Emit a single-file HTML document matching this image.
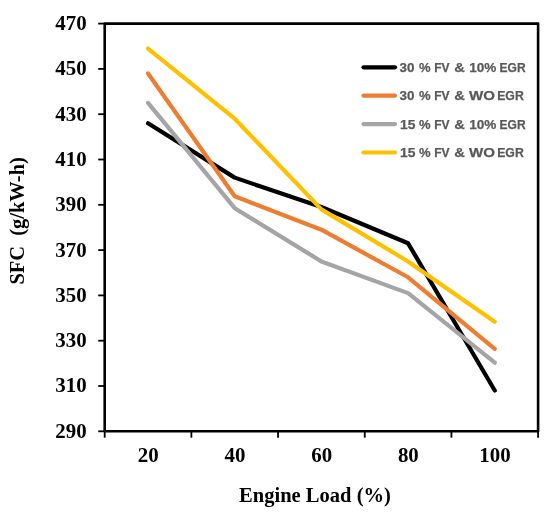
<!DOCTYPE html>
<html><head><meta charset="utf-8"><title>SFC vs Engine Load</title>
<style>
html,body{margin:0;padding:0;background:#fff;}
body{width:550px;height:514px;overflow:hidden;}
svg{display:block;}
.ax{font-family:"Liberation Serif",serif;font-weight:bold;font-size:20.4px;fill:#000;}
.lg{font-family:"Liberation Sans",sans-serif;font-weight:bold;font-size:13.4px;fill:#595959;stroke:#595959;stroke-width:0.25px;}
</style></head><body>
<svg width="550" height="514" viewBox="0 0 550 514">
<rect width="550" height="514" fill="#fff"/>
<rect x="104.7" y="23.6" width="433.40" height="407.70" fill="none" stroke="#000" stroke-width="2.6" stroke-linejoin="round"/>
<line x1="98.20" y1="23.60" x2="104.7" y2="23.60" stroke="#000" stroke-width="1.8"/>
<text class="ax" x="55.30" y="30.00" textLength="31.3" lengthAdjust="spacingAndGlyphs">470</text>
<line x1="98.20" y1="68.90" x2="104.7" y2="68.90" stroke="#000" stroke-width="1.8"/>
<text class="ax" x="55.30" y="75.30" textLength="31.3" lengthAdjust="spacingAndGlyphs">450</text>
<line x1="98.20" y1="114.20" x2="104.7" y2="114.20" stroke="#000" stroke-width="1.8"/>
<text class="ax" x="55.30" y="120.60" textLength="31.3" lengthAdjust="spacingAndGlyphs">430</text>
<line x1="98.20" y1="159.50" x2="104.7" y2="159.50" stroke="#000" stroke-width="1.8"/>
<text class="ax" x="55.30" y="165.90" textLength="31.3" lengthAdjust="spacingAndGlyphs">410</text>
<line x1="98.20" y1="204.80" x2="104.7" y2="204.80" stroke="#000" stroke-width="1.8"/>
<text class="ax" x="55.30" y="211.20" textLength="31.3" lengthAdjust="spacingAndGlyphs">390</text>
<line x1="98.20" y1="250.10" x2="104.7" y2="250.10" stroke="#000" stroke-width="1.8"/>
<text class="ax" x="55.30" y="256.50" textLength="31.3" lengthAdjust="spacingAndGlyphs">370</text>
<line x1="98.20" y1="295.40" x2="104.7" y2="295.40" stroke="#000" stroke-width="1.8"/>
<text class="ax" x="55.30" y="301.80" textLength="31.3" lengthAdjust="spacingAndGlyphs">350</text>
<line x1="98.20" y1="340.70" x2="104.7" y2="340.70" stroke="#000" stroke-width="1.8"/>
<text class="ax" x="55.30" y="347.10" textLength="31.3" lengthAdjust="spacingAndGlyphs">330</text>
<line x1="98.20" y1="386.00" x2="104.7" y2="386.00" stroke="#000" stroke-width="1.8"/>
<text class="ax" x="55.30" y="392.40" textLength="31.3" lengthAdjust="spacingAndGlyphs">310</text>
<line x1="98.20" y1="431.30" x2="104.7" y2="431.30" stroke="#000" stroke-width="1.8"/>
<text class="ax" x="55.30" y="437.70" textLength="31.3" lengthAdjust="spacingAndGlyphs">290</text>
<line x1="104.70" y1="431.3" x2="104.70" y2="437.70" stroke="#000" stroke-width="1.8"/>
<line x1="191.38" y1="431.3" x2="191.38" y2="437.70" stroke="#000" stroke-width="1.8"/>
<line x1="278.06" y1="431.3" x2="278.06" y2="437.70" stroke="#000" stroke-width="1.8"/>
<line x1="364.74" y1="431.3" x2="364.74" y2="437.70" stroke="#000" stroke-width="1.8"/>
<line x1="451.42" y1="431.3" x2="451.42" y2="437.70" stroke="#000" stroke-width="1.8"/>
<line x1="538.10" y1="431.3" x2="538.10" y2="437.70" stroke="#000" stroke-width="1.8"/>
<text class="ax" x="137.89" y="461.8" textLength="20.9" lengthAdjust="spacingAndGlyphs">20</text>
<text class="ax" x="224.57" y="461.8" textLength="20.9" lengthAdjust="spacingAndGlyphs">40</text>
<text class="ax" x="311.25" y="461.8" textLength="20.9" lengthAdjust="spacingAndGlyphs">60</text>
<text class="ax" x="397.93" y="461.8" textLength="20.9" lengthAdjust="spacingAndGlyphs">80</text>
<text class="ax" x="479.39" y="461.8" textLength="31.3" lengthAdjust="spacingAndGlyphs">100</text>
<polyline points="148.04,123.26 234.72,177.62 321.40,207.06 408.08,243.31 494.76,390.53" fill="none" stroke="#000000" stroke-width="4.2" stroke-linecap="round" stroke-linejoin="round"/>
<polyline points="148.04,73.43 234.72,196.19 321.40,229.71 408.08,277.28 494.76,348.85" fill="none" stroke="#ED7D31" stroke-width="4.2" stroke-linecap="round" stroke-linejoin="round"/>
<polyline points="148.04,102.88 234.72,208.20 321.40,261.43 408.08,293.13 494.76,362.67" fill="none" stroke="#A5A5A5" stroke-width="4.2" stroke-linecap="round" stroke-linejoin="round"/>
<polyline points="148.04,48.52 234.72,118.73 321.40,209.33 408.08,261.43 494.76,321.67" fill="none" stroke="#FFC000" stroke-width="4.2" stroke-linecap="round" stroke-linejoin="round"/>
<line x1="363.5" y1="67.30" x2="395.0" y2="67.30" stroke="#000000" stroke-width="4.2" stroke-linecap="round"/>
<text class="lg" y="71.80"><tspan x="399.5" textLength="14.9" lengthAdjust="spacingAndGlyphs">30</tspan> <tspan x="418.9" textLength="11.6" lengthAdjust="spacingAndGlyphs">%</tspan> <tspan x="434.2" textLength="15.4" lengthAdjust="spacingAndGlyphs">FV</tspan> <tspan x="454.3" textLength="10.6" lengthAdjust="spacingAndGlyphs">&amp;</tspan> <tspan x="469.3" textLength="27.1" lengthAdjust="spacingAndGlyphs">10%</tspan> <tspan x="499.5" textLength="26.1" lengthAdjust="spacingAndGlyphs">EGR</tspan></text>
<line x1="363.5" y1="95.70" x2="395.0" y2="95.70" stroke="#ED7D31" stroke-width="4.2" stroke-linecap="round"/>
<text class="lg" y="100.20"><tspan x="399.5" textLength="14.9" lengthAdjust="spacingAndGlyphs">30</tspan> <tspan x="418.9" textLength="11.6" lengthAdjust="spacingAndGlyphs">%</tspan> <tspan x="434.2" textLength="15.4" lengthAdjust="spacingAndGlyphs">FV</tspan> <tspan x="454.3" textLength="10.6" lengthAdjust="spacingAndGlyphs">&amp;</tspan> <tspan x="469.0" textLength="26.0" lengthAdjust="spacingAndGlyphs">WO</tspan> <tspan x="497.2" textLength="26.6" lengthAdjust="spacingAndGlyphs">EGR</tspan></text>
<line x1="363.5" y1="124.10" x2="395.0" y2="124.10" stroke="#A5A5A5" stroke-width="4.2" stroke-linecap="round"/>
<text class="lg" y="128.60"><tspan x="400.1" textLength="15.4" lengthAdjust="spacingAndGlyphs">15</tspan> <tspan x="418.9" textLength="11.6" lengthAdjust="spacingAndGlyphs">%</tspan> <tspan x="434.2" textLength="15.4" lengthAdjust="spacingAndGlyphs">FV</tspan> <tspan x="454.3" textLength="10.6" lengthAdjust="spacingAndGlyphs">&amp;</tspan> <tspan x="469.3" textLength="27.1" lengthAdjust="spacingAndGlyphs">10%</tspan> <tspan x="499.5" textLength="26.1" lengthAdjust="spacingAndGlyphs">EGR</tspan></text>
<line x1="363.5" y1="152.50" x2="395.0" y2="152.50" stroke="#FFC000" stroke-width="4.2" stroke-linecap="round"/>
<text class="lg" y="157.00"><tspan x="400.1" textLength="15.4" lengthAdjust="spacingAndGlyphs">15</tspan> <tspan x="418.9" textLength="11.6" lengthAdjust="spacingAndGlyphs">%</tspan> <tspan x="434.2" textLength="15.4" lengthAdjust="spacingAndGlyphs">FV</tspan> <tspan x="454.3" textLength="10.6" lengthAdjust="spacingAndGlyphs">&amp;</tspan> <tspan x="469.0" textLength="26.0" lengthAdjust="spacingAndGlyphs">WO</tspan> <tspan x="497.2" textLength="26.6" lengthAdjust="spacingAndGlyphs">EGR</tspan></text>
<text class="ax" style="font-size:20.3px" x="239.1" y="501.9" textLength="151.8" lengthAdjust="spacingAndGlyphs">Engine Load (%)</text>
<text class="ax" style="font-size:20.3px" transform="translate(24.1,284.5) rotate(-90)" textLength="127.3" lengthAdjust="spacingAndGlyphs" xml:space="preserve">SFC  (g/kW-h)</text>
</svg></body></html>
